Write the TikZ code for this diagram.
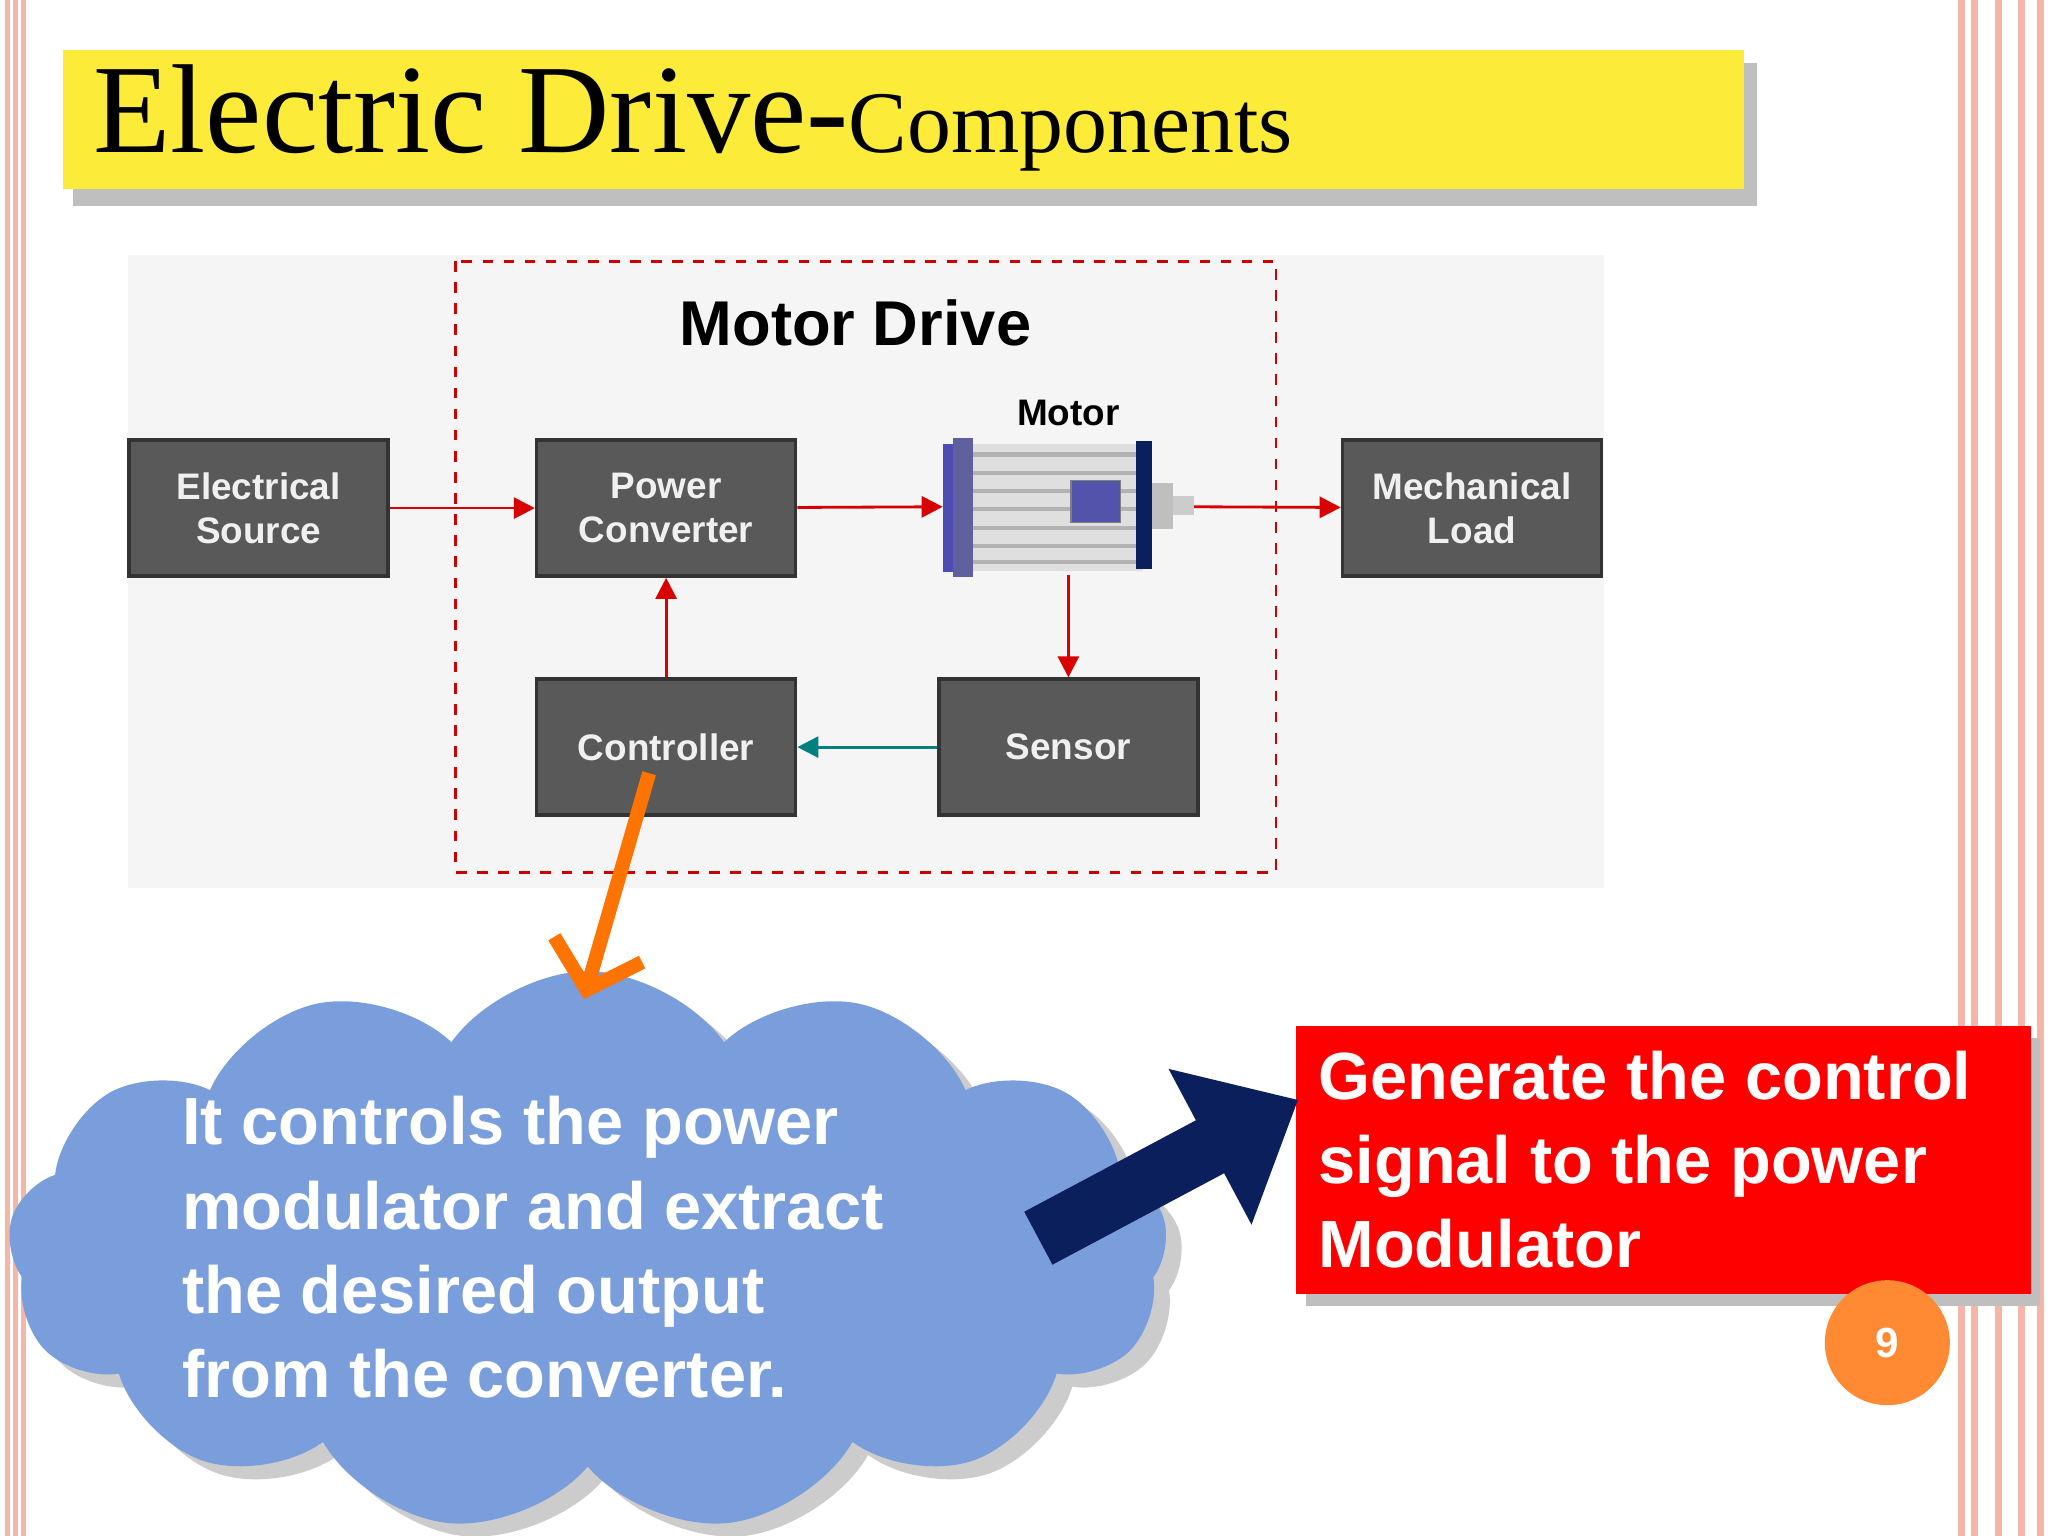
\documentclass[tikz,border=0pt]{standalone}
\usepackage{fontspec}
\setmainfont{Liberation Serif}
\newfontfamily\sansf{Liberation Sans}
\usetikzlibrary{positioning,shapes.symbols,arrows.meta}
\definecolor{boxgray}{HTML}{595959}
\definecolor{ttlyellow}{HTML}{FDEB3A}
\definecolor{cloudblue}{HTML}{7A9EDC}
\definecolor{navy}{HTML}{0B1F5C}
\definecolor{pinkline}{HTML}{F4B6A6}
\tikzset{
  blk/.style={draw=black!80,line width=1pt,fill=boxgray,minimum width=2.59cm,minimum height=1.36cm,
    text=white!88!gray,font=\sansf\bfseries\fontsize{10.5}{12.5}\selectfont,align=center},
  flow/.style={draw=red!85!black,line width=0.8pt,-{Triangle[length=6pt,width=6pt]}},
  bigtxt/.style={text=white,font=\sansf\bfseries\fontsize{19}{24}\selectfont,align=left}
}
\begin{document}
\begin{tikzpicture}[x=0.01306cm,y=-0.01306cm]
\useasboundingbox (0,0) rectangle (1568,1176);
\fill[white] (0,0) rectangle (1568,1176);
% side borders
\foreach \xx in {6,12,18} \draw[pinkline,line width=1.5pt] (\xx,0) -- (\xx,1176);
\foreach \xx in {1502,1512,1530,1548,1562} \draw[pinkline,line width=2pt] (\xx,0) -- (\xx,1176);
% title
\fill[black!25] (56,48) rectangle (1345,158);
\fill[ttlyellow] (48,38) rectangle (1335,145);
\node[anchor=west] (title) at (62,90) {\fontsize{36}{40}\selectfont Electric Drive-\fontsize{25}{30}\selectfont Components};
% diagram panel
\fill[gray!8] (98,195) rectangle (1228,680);
\draw[red!80!black,dashed,line width=0.8pt] (349,200) rectangle (977,668);
\node (mdrive) at (655,247) {\sansf\bfseries\fontsize{18}{20}\selectfont Motor Drive};
\node[blk] (src) at (198,389) {Electrical\\Source};
\node[blk] (conv) at (510,389) {Power\\Converter};
\node[blk] (load) at (1127,389) {Mechanical\\Load};
\node[blk] (ctrl) at (510,572) {Controller};
\node[blk] (sens) at (818,572) {Sensor};
\node[minimum width=2.5cm,minimum height=1.36cm] (motor) at (818,388) {};
\node[above=0pt of motor,font=\sansf\bfseries\fontsize{10.5}{12.5}\selectfont] (mlabel) {Motor};
% motor body
\fill[gray!25] (742,340) rectangle (875,437);
\foreach \yy in {348,362,376,390,404,418,430} \draw[gray!60,line width=1.2pt] (745,\yy) -- (872,\yy);
\fill[blue!40!gray] (722,340) rectangle (745,438);
\fill[blue!25!gray] (730,335) rectangle (745,442);
\fill[blue!35!gray,draw=gray] (820,368) rectangle (858,400);
\fill[navy] (870,338) rectangle (882,436);
\fill[gray!50] (882,370) rectangle (898,405);
\fill[gray!40] (898,380) rectangle (914,394);
\draw[flow] (src) -- (conv);
\draw[flow] (conv) -- (motor.west);
\draw[flow] (motor.east) -- (load);
\draw[flow] (motor.south) -- (sens);
\draw[flow] (ctrl) -- (conv);
\draw[teal,line width=0.8pt,-{Triangle[length=6pt,width=6pt]}] (sens) -- (ctrl);
% cloud
\node[cloud,cloud puffs=13,cloud puff arc=110,aspect=2.2,fill=black!20,minimum width=11.6cm,minimum height=5.6cm] at (462,968) {};
\node[cloud,cloud puffs=13,cloud puff arc=110,aspect=2.2,fill=cloudblue,minimum width=11.6cm,minimum height=5.6cm] (cloud) at (450,958) {};
\node[bigtxt,anchor=north west] (ctext) at (130,830) {It controls the power\\modulator and extract\\the desired output\\from the converter.};
\coordinate (ctip) at (447,765);
\draw[orange!90!red,line width=4pt,-{Straight Barb[length=12pt,width=26pt]}] (497,592) -- (ctip);
% red box
\fill[black!25] (1000,795) rectangle (1562,1000);
\node[fill=red,minimum width=7.35cm,minimum height=2.68cm,anchor=north west,inner sep=0] (gen) at (992,785) {};
\node[bigtxt,anchor=north west] (gtext) at (1000,795) {Generate the control\\signal to the power\\Modulator};
\coordinate (gtip) at (994,842);
\draw[navy,line width=0.6cm,-{Triangle[length=1cm,width=1.7cm]}] (795,948) -- (gtip);
% page number
\node[circle,fill=orange!85!red!80,minimum size=1.25cm,text=white,font=\sansf\bfseries\fontsize{12}{14}\selectfont] (pg) at (1445,1028) {9};
\end{tikzpicture}
\end{document}
